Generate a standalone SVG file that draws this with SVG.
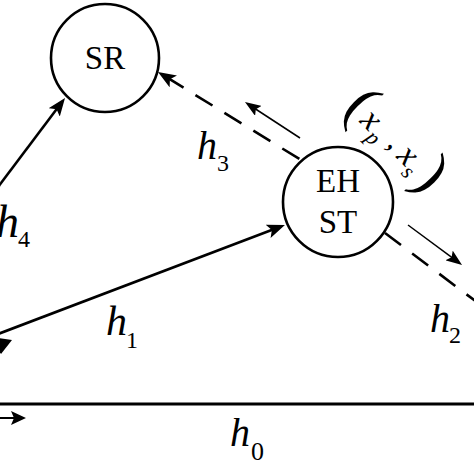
<svg xmlns="http://www.w3.org/2000/svg" width="474" height="474" viewBox="0 0 474 474">
<style>
.node{fill:#fff;stroke:#000;stroke-width:2.6}
.lbl{font-family:"Liberation Serif","Times New Roman",serif;font-size:33px;fill:#000;text-anchor:middle}
.main{fill:none;stroke:#000;stroke-width:2.6}
.dash{fill:none;stroke:#000;stroke-width:2.6;stroke-dasharray:20 14}
.thin{fill:none;stroke:#000;stroke-width:1.5}
.h{font-family:"Liberation Serif","Times New Roman",serif;font-style:italic;fill:#000}
.sub{font-family:"Liberation Serif","Times New Roman",serif;fill:#000}
</style>
<defs>
<marker id="big" markerUnits="userSpaceOnUse" viewBox="0 0 18 14" markerWidth="18" markerHeight="14" refX="8" refY="7" orient="auto-start-reverse">
<path d="M0,0 L18,7 L0,14 L4,7 z" fill="#000"/>
</marker>
<marker id="small" markerUnits="userSpaceOnUse" viewBox="0 0 16 12" markerWidth="16" markerHeight="12" refX="7" refY="6" orient="auto-start-reverse">
<path d="M0,0 L16,6 L0,12 L3,6 z" fill="#000"/>
</marker>
<marker id="mid" markerUnits="userSpaceOnUse" viewBox="0 0 15 14" markerWidth="15" markerHeight="14" refX="6" refY="7" orient="auto">
<path d="M0,0 L15,7 L0,14 L3,7 z" fill="#000"/>
</marker>
</defs>
<rect width="474" height="474" fill="#fff"/>
<g id="connectors">
<line class="main" x1="-5" y1="191" x2="59" y2="106" marker-end="url(#big)"/>
<line class="main" x1="-2" y1="334" x2="275.6" y2="228.5" marker-end="url(#big)"/>
<line class="dash" x1="166.5" y1="77.2" x2="301" y2="160" marker-start="url(#big)"/>
<line class="dash" x1="385" y1="233" x2="478" y2="303"/>
<line class="main" x1="0" y1="404" x2="474" y2="404" style="stroke-width:3"/>
<line class="thin" x1="300" y1="138" x2="252.5" y2="107" marker-end="url(#small)"/>
<line class="thin" x1="408" y1="225" x2="454.8" y2="259.6" marker-end="url(#small)"/>
<line class="thin" x1="-2" y1="418" x2="17" y2="418" style="stroke-width:2" marker-end="url(#mid)"/>
<polygon points="-10,337 12,340 1,354" fill="#000"/>
</g>
<g id="SR">
<circle class="node" cx="105" cy="58" r="54"/>
<text class="lbl" x="105" y="69">SR</text>
</g>
<g id="EHST">
<circle class="node" cx="338" cy="202" r="55"/>
<text class="lbl" x="338" y="192">EH</text>
<text class="lbl" x="338" y="233">ST</text>
</g>
<g id="labels">
<text class="h" x="-4" y="237" font-size="46">h</text><text class="sub" x="18" y="247" font-size="24">4</text>
<text class="h" x="197" y="159" font-size="40">h</text><text class="sub" x="217" y="171" font-size="24">3</text>
<text class="h" x="106" y="335" font-size="42">h</text><text class="sub" x="126" y="348" font-size="24">1</text>
<text class="h" x="430" y="332" font-size="40">h</text><text class="sub" x="449" y="343" font-size="24">2</text>
<text class="h" x="230" y="446" font-size="40">h</text><text class="sub" x="251" y="460" font-size="26">0</text>
<g transform="translate(394,143) rotate(45)">
<text class="sub" x="-50" y="14" font-size="60" text-anchor="middle">(</text>
<text class="h" x="-40" y="10" font-size="34">x</text>
<text class="h" x="-24" y="18" font-size="22">p</text>
<text class="sub" x="-4" y="7" font-size="32">,</text>
<text class="h" x="11" y="9" font-size="34">x</text>
<text class="h" x="26" y="17" font-size="22">s</text>
<text class="sub" x="49" y="14" font-size="60" text-anchor="middle">)</text>
</g>
</g>
</svg>
